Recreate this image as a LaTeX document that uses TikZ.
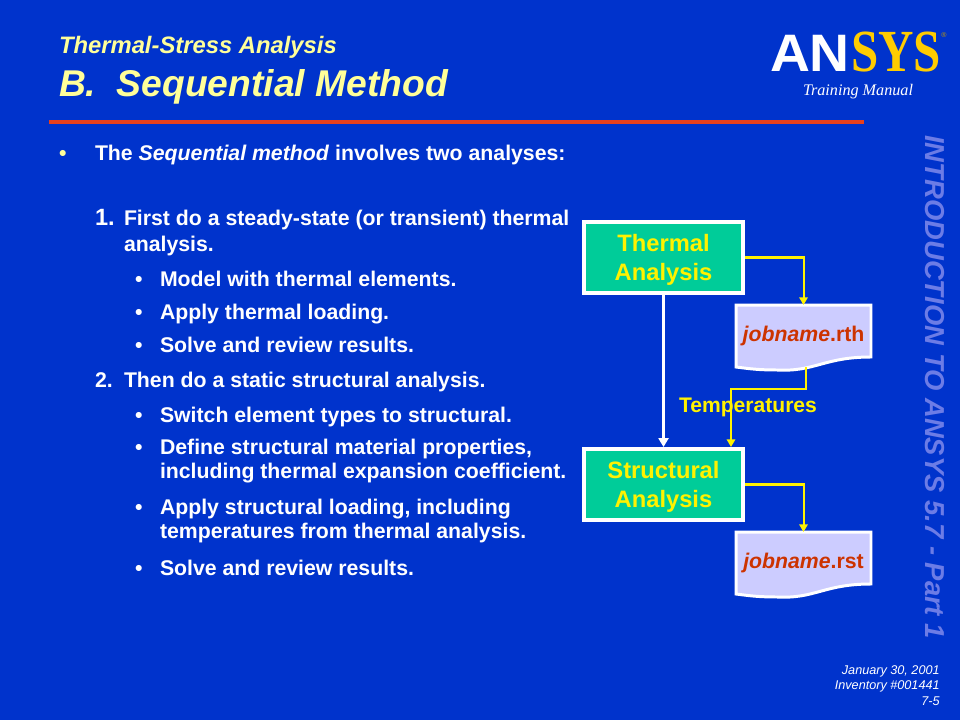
\documentclass[tikz,border=0pt]{standalone}
\usepackage{fontspec}
\setmainfont{Liberation Sans}
\newfontfamily\logoserif{Liberation Serif}
\usetikzlibrary{arrows.meta,backgrounds,calc}
\definecolor{slideblue}{HTML}{0033CC}
\definecolor{boxgreen}{HTML}{00CC99}
\definecolor{docfill}{HTML}{CCCCFF}
\definecolor{docred}{HTML}{CC3300}
\definecolor{titleyellow}{HTML}{FFFF99}
\definecolor{logoyellow}{HTML}{FFCC00}
\definecolor{sideblue}{HTML}{6C7CE6}
\definecolor{ruled}{HTML}{E8401C}
\newcommand{\wavedoc}[1]{%
  \filldraw[docshape] (#1.north west) -- (#1.north east)
    -- ($(#1.south east)+(0,-10)$)
    .. controls +(-47,0) and +(38,2) .. ($(#1.south)+(-26.5,3)$)
    .. controls +(-17,0) and +(15,2) .. (#1.south west) -- cycle;}
\begin{document}
\begin{tikzpicture}[x=0.02cm,y=-0.02cm,
    txt/.style={anchor=base west,inner sep=0pt,outer sep=0pt,text=white},
    bodytext/.style={txt,font=\bfseries\fontsize{12.1}{14}\selectfont},
    footer/.style={anchor=base east,inner sep=0pt,text=white,font=\itshape\fontsize{7.2}{9}\selectfont},
    analysis/.style={draw=white,fill=boxgreen,line width=2.27pt,minimum width=3.18cm,minimum height=1.42cm,
      inner sep=0pt,align=center,text=yellow,font=\bfseries\fontsize{13.5}{16.8}\selectfont},
    docnode/.style={minimum width=2.7cm,minimum height=1.24cm,inner sep=0pt,outer sep=0pt,text=docred,
      font=\bfseries\fontsize{12.1}{14}\selectfont},
    docshape/.style={draw=white,fill=docfill,line width=1.7pt,line join=miter},
    flow/.style={draw=yellow,line width=1.15pt,-{Triangle[length=4.4pt,width=4.8pt]}},
    mainflow/.style={draw=white,line width=1.7pt,-{Triangle[length=5pt,width=5.6pt]}}]
  \useasboundingbox (0,0) rectangle (960,720);
  % Kopf
  \node[txt,text=titleyellow,font=\bfseries\itshape\fontsize{13.55}{16}\selectfont] (subtitle) at (59,53) {Thermal-Stress Analysis};
  \node[txt,text=titleyellow,font=\bfseries\itshape\fontsize{21.2}{24}\selectfont] (title) at (59,96) {B.\ \ Sequential Method};
  \draw[draw=ruled,line width=2pt] (49,122) -- (864,122);
  % Logo
  \node[txt,xscale=1.05,font=\bfseries\fontsize{30}{30}\selectfont] (logoan) at (770,71) {AN};
  \node[txt,xscale=0.82,text=logoyellow,font=\logoserif\bfseries\fontsize{34}{34}\selectfont] (logosys) at (851,71) {SYS};
  \node[inner sep=0pt,text=logoyellow!75!black,font=\fontsize{4}{5}\selectfont] (logoreg) at (944,35) {®};
  \node[txt,font=\logoserif\itshape\fontsize{9.2}{11}\selectfont] (manual) at (803,95) {Training Manual};
  % Text links
  \node[bodytext,text=titleyellow] (bul) at (59,160) {•};
  \node[bodytext] (intro) at (95,160) {The \textit{Sequential method} involves two analyses:};
  \node[txt,font=\bfseries\fontsize{13.4}{15}\selectfont] (one) at (95,225) {1.};
  \node[bodytext] (two) at (95,387) {2.};
  \foreach \name/\xpos/\ypos/\line in {a1/124/225/{First do a steady-state (or transient) thermal},
      a2/124/251/{analysis.},
      b1/160/286/{Model with thermal elements.},
      b2/160/319/{Apply thermal loading.},
      b3/160/352/{Solve and review results.},
      c1/124/387/{Then do a static structural analysis.},
      d1/160/422/{Switch element types to structural.},
      d2/160/454/{Define structural material properties,},
      d3/160/478/{including thermal expansion coefficient.},
      d4/160/514/{Apply structural loading, including},
      d5/160/538/{temperatures from thermal analysis.},
      d6/160/575/{Solve and review results.}}
    \node[bodytext] (\name) at (\xpos,\ypos) {\line};
  \foreach \name/\ypos in {p1/286,p2/319,p3/352,p4/422,p5/454,p6/514,p7/575}
    \node[bodytext] (\name) at (135,\ypos) {•};
  % Diagramm
  \node[analysis,text depth=0pt] (thermal) at (663.5,257.5) {Thermal\\Analysis};
  \node[analysis,text depth=0pt] (structural) at (663.5,484.5) {Structural\\Analysis};
  \node[docnode] (rth) at (803.5,336) {\textit{jobname}.rth};
  \node[docnode] (rst) at (803.5,563) {\textit{jobname}.rst};
  \node[anchor=base,inner sep=0pt,text=yellow,font=\bfseries\fontsize{12}{14}\selectfont] (temps) at (748,412) {Temperatures};
  \draw[mainflow] (thermal) -- (structural);
  \draw[flow] (thermal.east) -| (rth.north);
  \draw[flow] (structural.east) -| (rst.north);
  \draw[flow] ($(rth.south)+(2.5,0)$) -- ++(0,22) -| ($(structural.north)+(67.5,0)$);
  % Rand
  \node[anchor=base west,rotate=-90,inner sep=0pt,text=sideblue,font=\bfseries\itshape\fontsize{15.6}{18}\selectfont] (sidetext) at (925,135) {INTRODUCTION TO ANSYS 5.7 - Part 1};
  \node[footer] (date) at (940,674) {January 30, 2001};
  \node[footer] (inventory) at (940,689) {Inventory \#001441};
  \node[footer] (pagenum) at (940,705) {7-5};
  \begin{scope}[on background layer]
    \fill[slideblue] (0,0) rectangle (960,720);
    \wavedoc{rth}
    \wavedoc{rst}
  \end{scope}
\end{tikzpicture}
\end{document}
